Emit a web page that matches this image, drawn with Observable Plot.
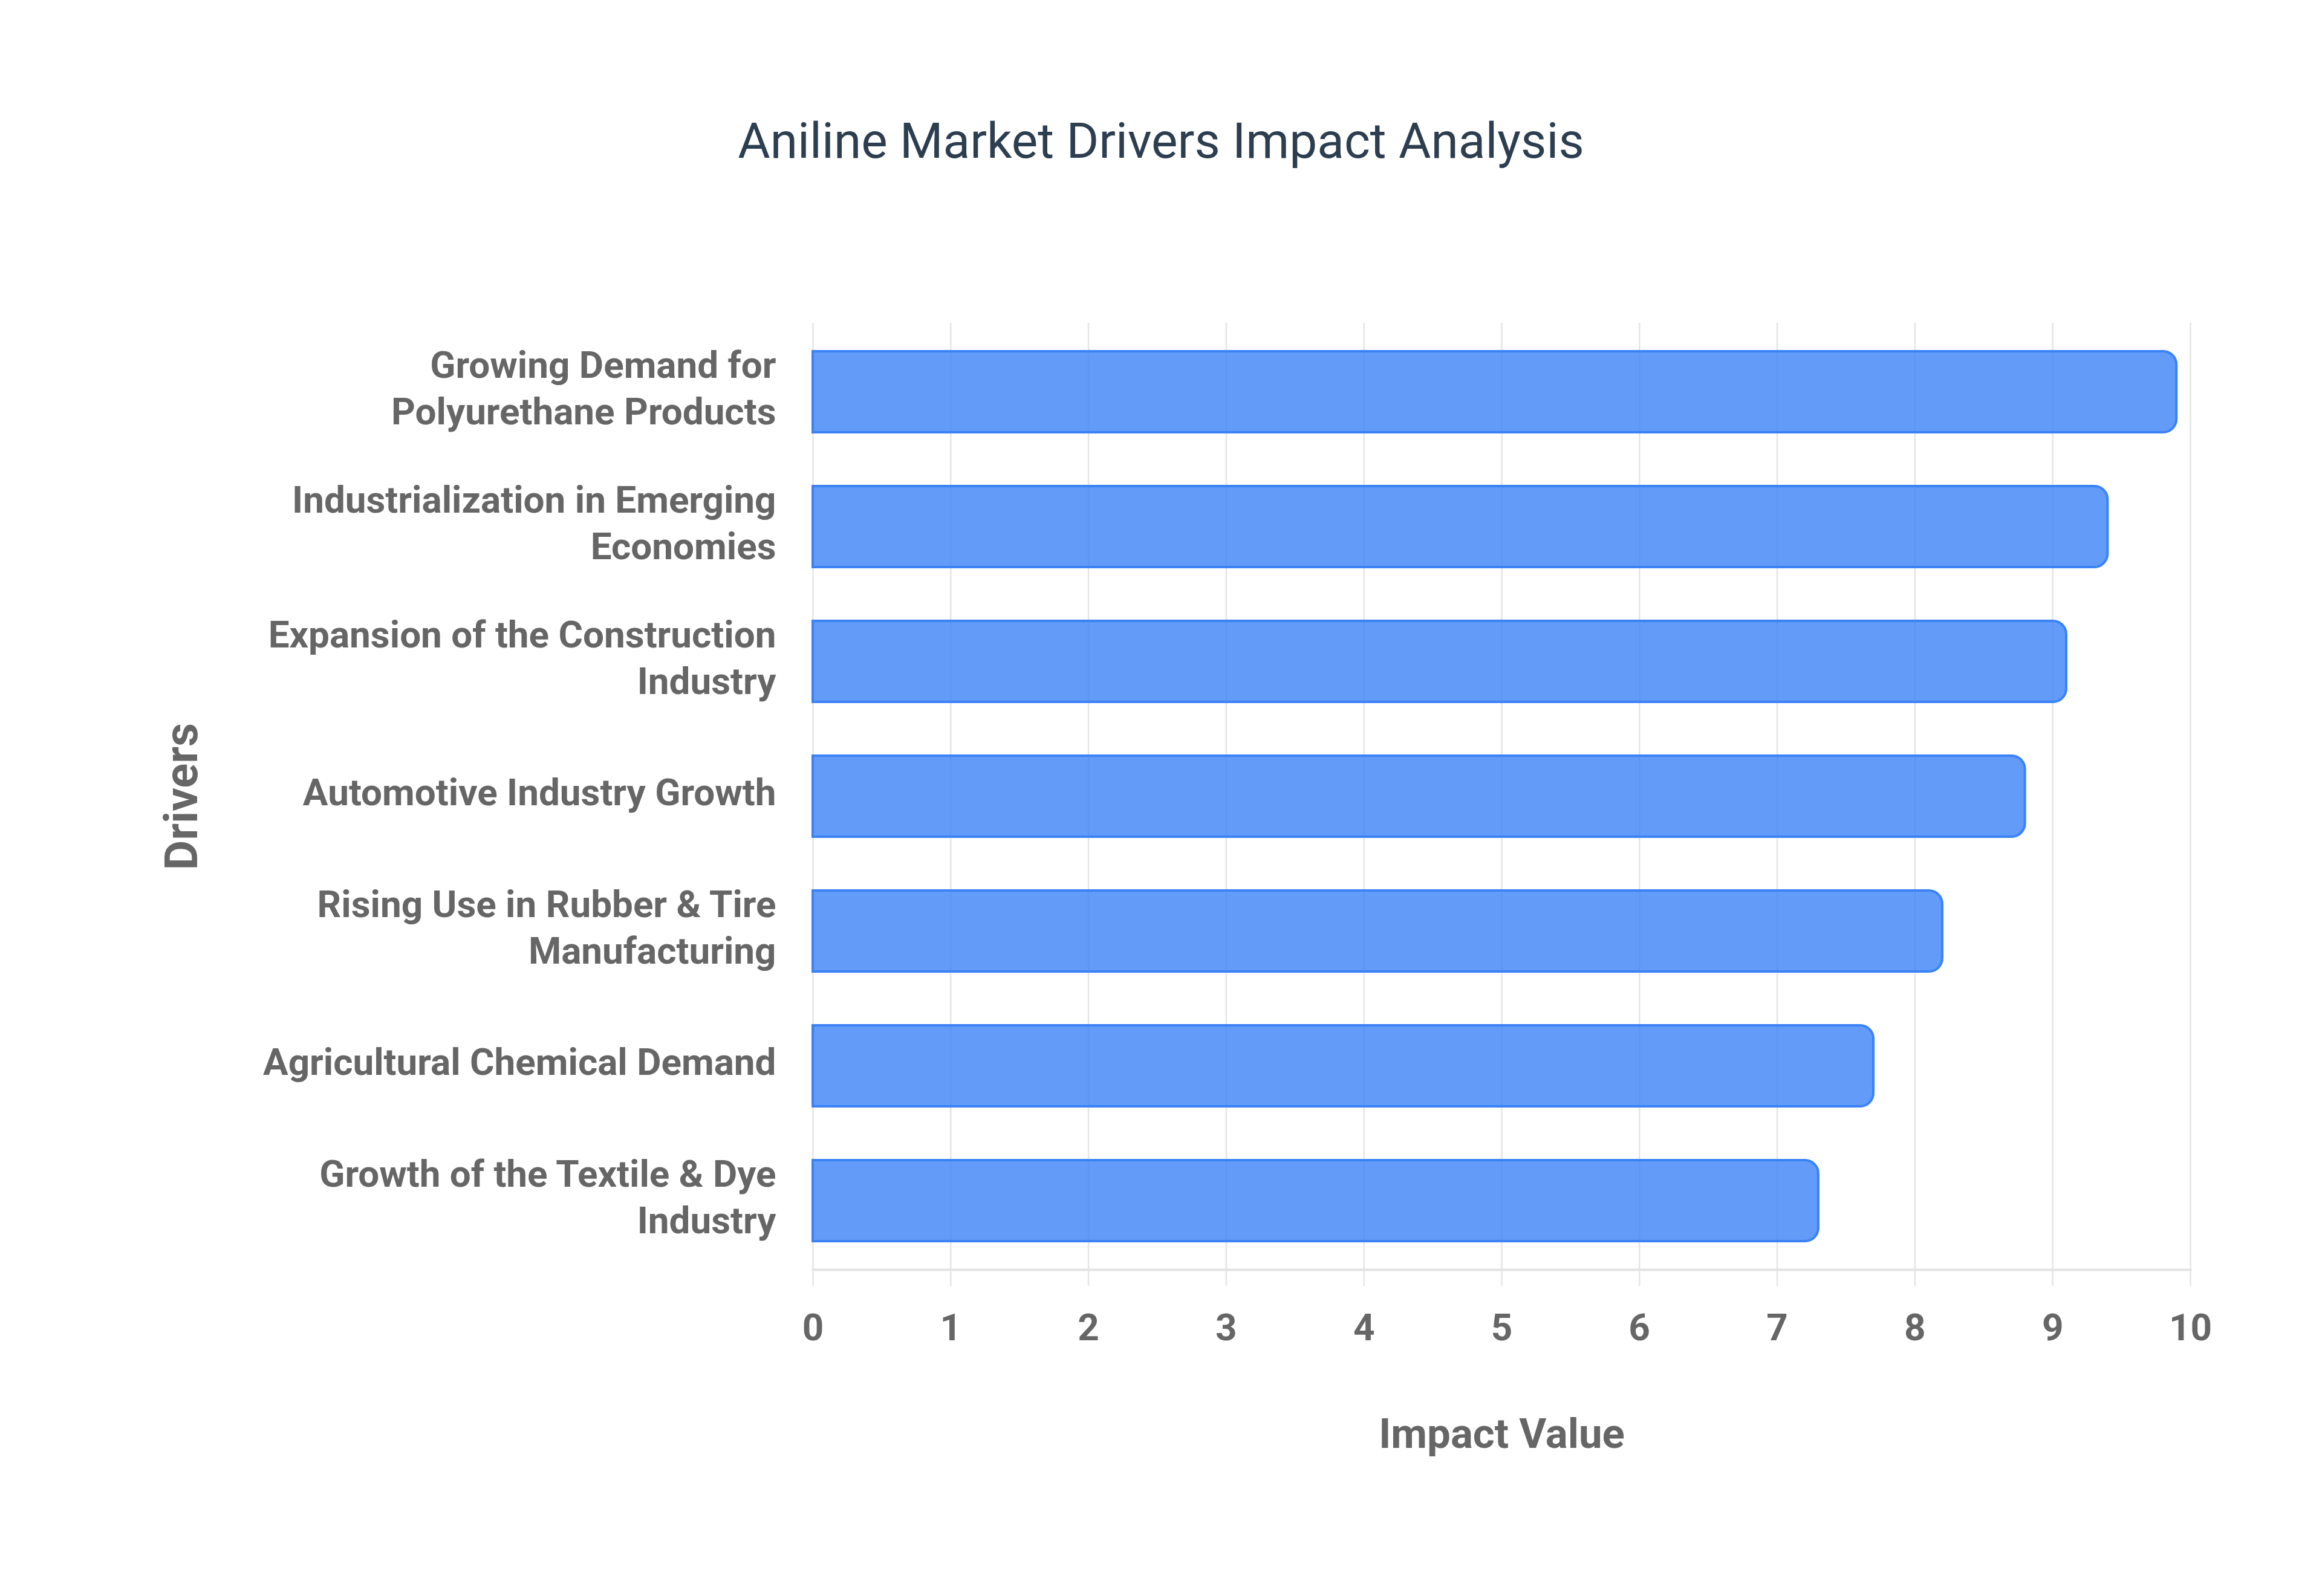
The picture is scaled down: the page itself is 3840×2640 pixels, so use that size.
<!DOCTYPE html>
<html>
<head>
<meta charset="utf-8">
<script src="https://cdn.jsdelivr.net/npm/d3@7"></script>
<script src="https://cdn.jsdelivr.net/npm/@observablehq/plot@0.6"></script>
<style>
  html, body { margin: 0; padding: 0; background: #ffffff; }
  body { width: 3840px; height: 2640px; overflow: hidden; }
  #title {
    height: 440px; box-sizing: border-box; padding-top: 192px;
    font-family: Roboto, "Liberation Sans", sans-serif; font-size: 82px; line-height: 82px;
    font-weight: 400; color: #2c3e50; text-align: center;
  }
</style>
</head>
<body>
<div id="title">Aniline Market Drivers Impact Analysis</div>
<div id="chart"></div>
<script>
const drivers = [
  "Growing Demand for Polyurethane Products",
  "Industrialization in Emerging Economies",
  "Expansion of the Construction Industry",
  "Automotive Industry Growth",
  "Rising Use in Rubber & Tire Manufacturing",
  "Agricultural Chemical Demand",
  "Growth of the Textile & Dye Industry"
];
const impactValues = [9.9, 9.4, 9.1, 8.8, 8.2, 7.7, 7.3];
const driverLabels = [
  "Growing Demand for\nPolyurethane Products",
  "Industrialization in Emerging\nEconomies",
  "Expansion of the Construction\nIndustry",
  "Automotive Industry Growth",
  "Rising Use in Rubber & Tire\nManufacturing",
  "Agricultural Chemical Demand",
  "Growth of the Textile & Dye\nIndustry"
];
const xTicks = [0, 1, 2, 3, 4, 5, 6, 7, 8, 9, 10];
const xTitle = "Impact Value";
const yTitle = "Drivers";

const data = drivers.map((d, i) => ({driver: d, value: impactValues[i]}));
const labelOf = new Map(drivers.map((d, i) => [d, driverLabels[i]]));

const chart = Plot.plot({
  width: 3840,
  height: 2200,
  marginTop: 94,
  marginBottom: 540,
  marginLeft: 1344,
  marginRight: 218,
  style: {fontFamily: "Roboto, 'Liberation Sans', sans-serif", fontWeight: "bold", color: "#666666", background: "#ffffff"},
  x: {domain: [0, 10], label: null},
  y: {domain: drivers, paddingInner: 0.4, paddingOuter: 0.2, label: null},
  marks: [
    Plot.gridX(xTicks, {stroke: "#e5e5e5", strokeOpacity: 1, strokeWidth: 2.5}),
    Plot.frame({anchor: "bottom", stroke: "#e2e2e2", strokeWidth: 4}),
    Plot.barX(data, {
      x: "value", y: "driver",
      fill: "rgba(59,130,246,0.8)", stroke: "#3b82f6", strokeWidth: 4,
      rx2: 22
    }),
    Plot.axisX(xTicks, {
      tickSize: 27, tickPadding: 45, stroke: "#e5e5e5", strokeWidth: 2.5,
      tickFormat: d => String(d),
      fontSize: 62, fill: "#666666", label: null
    }),
    Plot.axisY({
      tickSize: 0, tickPadding: 61, tickFormat: d => labelOf.get(d),
      fontSize: 62, lineHeight: 1.25, dy: -10, fill: "#666666", label: null
    }),
    Plot.text([xTitle], {frameAnchor: "bottom", dy: 294, fontSize: 69, fill: "#666666", fontWeight: "bold"}),
    Plot.text([yTitle], {frameAnchor: "left", textAnchor: "middle", dx: -1043, rotate: -90, fontSize: 76, fill: "#666666", fontWeight: "bold"})
  ]
});
document.getElementById("chart").appendChild(chart);
</script>
</body>
</html>
